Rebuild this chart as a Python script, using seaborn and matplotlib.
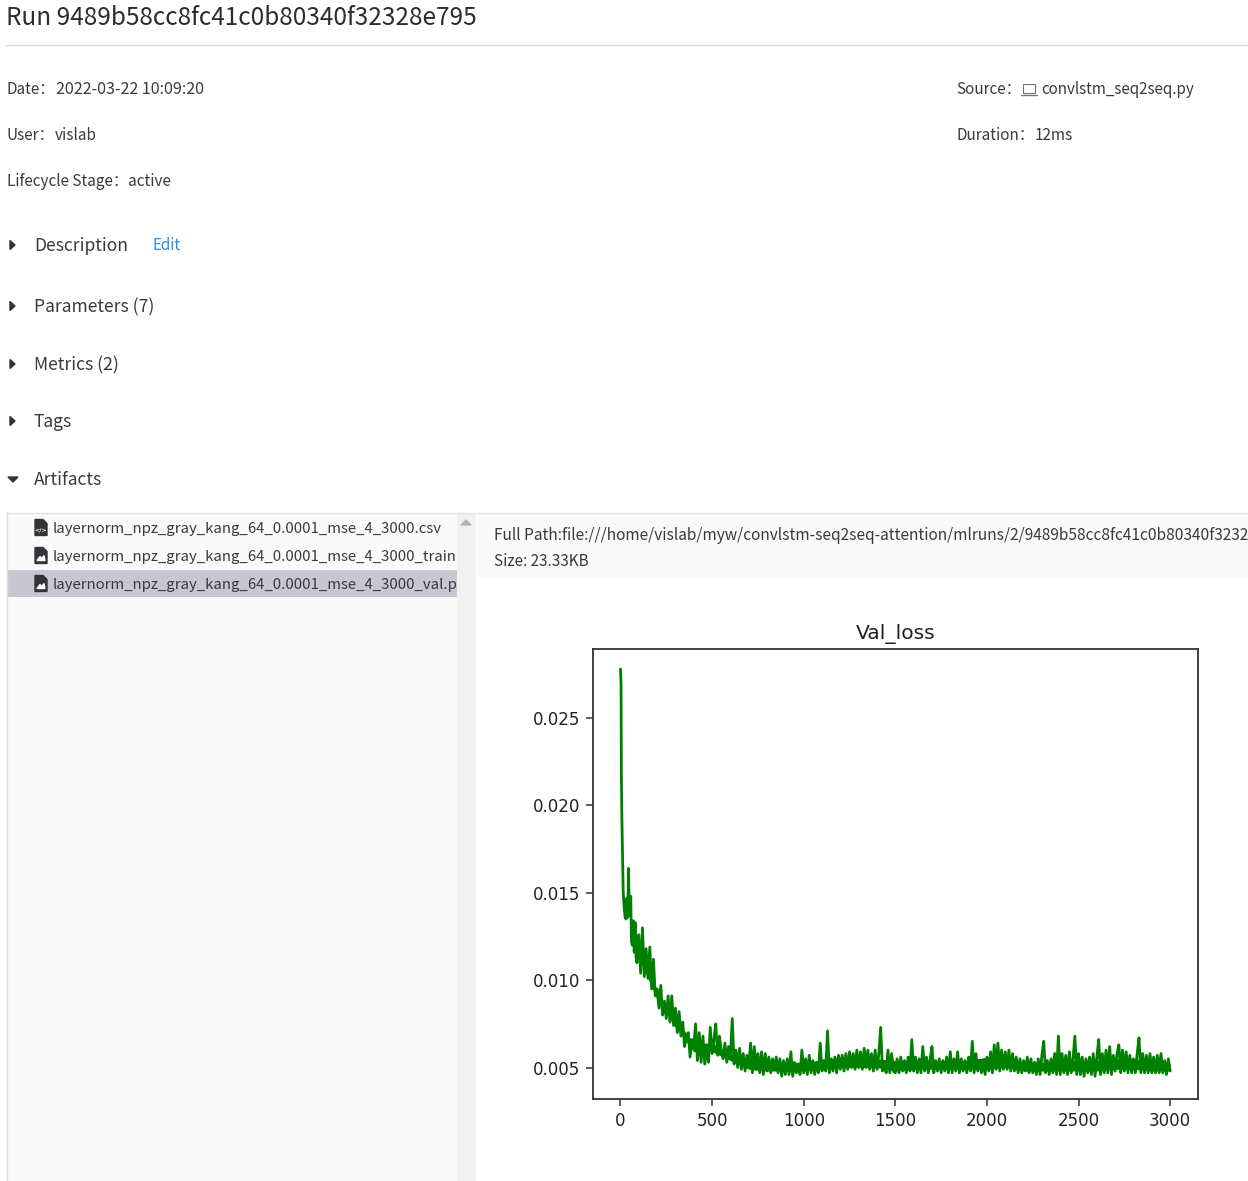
#!/usr/bin/env python3
"""Recreate the MLflow run page with the Val_loss artifact preview."""

import numpy as np
import pandas as pd
import matplotlib
matplotlib.use("Agg")
import matplotlib.pyplot as plt
from matplotlib.patches import Polygon, Rectangle
import seaborn as sns

# ── Data ───────────────────────────────────────────────────────────────────

RUN_TITLE = "Run 9489b58cc8fc41c0b80340f32328e795"
ARTIFACTS = [
    "layernorm_npz_gray_kang_64_0.0001_mse_4_3000.csv",
    "layernorm_npz_gray_kang_64_0.0001_mse_4_3000_train.png",
    "layernorm_npz_gray_kang_64_0.0001_mse_4_3000_val.png",
]
FULL_PATH = ("Full Path:file:///home/vislab/myw/convlstm-seq2seq-attention/"
             "mlruns/2/9489b58cc8fc41c0b80340f32328e795/artifacts")

x_ticks = [0, 500, 1000, 1500, 2000, 2500, 3000]
y_ticks = [0.005, 0.010, 0.015, 0.020, 0.025]
y_tick_labels = ["0.005", "0.010", "0.015", "0.020", "0.025"]

# first 100 epochs, loss in units of 1e-4
early_epochs = [0, 3, 5, 8, 12, 15, 20, 25, 30, 35, 40, 44, 48, 52, 56,
                60, 65, 70, 75, 80, 85, 90, 95]
early_loss = [278, 270, 215, 190, 168, 150, 142, 136, 135, 147, 136, 164, 140,
              137, 148, 122, 120, 134, 116, 133, 113, 110, 124]

# epochs 100..2990 every 10, loss in units of 1e-4
band_loss = [
    126, 104, 130, 102, 118, 101, 119, 95, 112, 91,
    95, 84, 97, 80, 88, 78, 91, 76, 91, 74,
    84, 70, 82, 68, 76, 62, 68, 70, 56, 66,
    62, 75, 54, 70, 53, 68, 52, 62, 53, 73,
    58, 66, 75, 57, 68, 60, 55, 64, 53, 62,
    56, 78, 52, 60, 50, 61, 49, 58, 48, 57,
    50, 64, 47, 62, 49, 58, 47, 59, 46, 58,
    48, 56, 47, 55, 49, 56, 47, 55, 45, 54,
    46, 55, 46, 59, 45, 53, 47, 52, 46, 60,
    47, 55, 46, 57, 47, 54, 46, 53, 47, 64,
    48, 54, 48, 71, 47, 55, 48, 56, 47, 57,
    49, 57, 48, 58, 49, 59, 50, 58, 49, 60,
    50, 59, 49, 61, 50, 60, 49, 58, 48, 60,
    49, 58, 73, 48, 52, 47, 60, 47, 58, 48,
    47, 55, 47, 56, 48, 54, 47, 56, 48, 66,
    48, 56, 47, 55, 47, 62, 48, 56, 47, 55,
    62, 47, 54, 48, 55, 47, 54, 48, 56, 47,
    59, 47, 55, 48, 59, 47, 55, 48, 54, 47,
    56, 48, 65, 47, 58, 48, 54, 47, 53, 46,
    56, 48, 59, 47, 63, 49, 64, 48, 60, 49,
    59, 49, 60, 48, 58, 48, 56, 47, 55, 47,
    54, 48, 56, 47, 55, 47, 53, 46, 55, 46,
    57, 65, 47, 54, 46, 55, 47, 58, 46, 68,
    46, 58, 47, 57, 46, 59, 47, 55, 68, 46,
    58, 46, 56, 45, 55, 47, 56, 46, 58, 45,
    56, 66, 46, 58, 47, 60, 47, 62, 46, 57,
    48, 58, 63, 47, 60, 48, 59, 47, 57, 47,
    55, 47, 58, 67, 47, 58, 47, 57, 47, 58,
    47, 56, 47, 57, 47, 58, 47, 54, 46, 55,
]
last_epoch = 3000
last_loss = 48

# solid body of the noisy band, every 100 epochs, units of 1e-4
body_epochs = [100, 200, 300, 400, 500, 600, 700, 800, 900, 1000,
               1100, 1200, 1300, 1400, 1500, 1600, 1700, 1800, 1900, 2000,
               2100, 2200, 2300, 2400, 2500, 2600, 2700, 2800, 2900, 3000]
body_low = [113, 89, 73, 59, 59, 54, 49, 48, 48, 48,
            49, 50, 50, 50, 48, 49, 49, 49, 49, 49,
            50, 48, 48, 48, 48, 48, 49, 49, 48, 48]
body_high = [120, 92, 78, 64, 64, 58, 55, 53, 53, 53,
             54, 56, 56, 55, 54, 54, 54, 54, 54, 56,
             56, 53, 53, 54, 54, 54, 55, 55, 54, 52]

# ── Config ─────────────────────────────────────────────────────────────────

WIDTH, HEIGHT = 1248, 1181
UI_FONT = ["Noto Sans CJK SC", "DejaVu Sans"]
TEXT = "#3a3a3a"
LINK = "#2b8fe0"
PANEL = "#fafafa"
SCROLL = "#f1f1f1"
SELECTED = "#c9c6d3"
SMALL = 10.75


def ui_text(ax, x, y, s, size=SMALL, color=TEXT, **kw):
    return ax.text(x, y, s, fontsize=size, color=color, family=UI_FONT,
                   va="center", ha=kw.pop("ha", "left"), **kw)


def file_icon(ax, x, y, kind="png"):
    """Small dark document glyph, centre at x, y."""
    ax.add_patch(Polygon([(x - 6, y - 8), (x + 2, y - 8), (x + 6, y - 4),
                          (x + 6, y + 8), (x - 6, y + 8)], color="#33333a"))
    if kind == "csv":
        ax.text(x, y + 2, "</>", color="white", fontsize=4.5, ha="center",
                va="center", fontweight="bold")
    else:
        ax.add_patch(Polygon([(x - 4, y + 5), (x - 1, y + 1), (x + 1, y + 3),
                              (x + 3, y), (x + 4, y + 5)], color="white"))


def draw_page(ax):
    ax.set_xlim(0, WIDTH)
    ax.set_ylim(HEIGHT, 0)
    ax.axis("off")

    ui_text(ax, 6, 18, RUN_TITLE, size=17.5, color="#2c2c2c", fontweight="medium")
    ax.plot([6, WIDTH], [45, 45], color="#dcdcdc", lw=1)

    ui_text(ax, 7, 90, "Date：", size=11)
    ui_text(ax, 56, 90, "2022-03-22 10:09:20", size=11.6)
    ui_text(ax, 7, 136, "User：", size=11)
    ui_text(ax, 55, 136, "vislab", size=11)
    ui_text(ax, 7, 182, "Lifecycle Stage：active", size=11)
    ui_text(ax, 956, 90, "Source：", size=11)
    ui_text(ax, 1041, 90, "convlstm_seq2seq.py", size=10.9)
    ui_text(ax, 956, 136, "Duration：", size=11)
    ui_text(ax, 1035, 136, "12ms", size=11)

    # laptop glyph next to the source name
    ax.add_patch(Rectangle((1023, 84), 12, 9, fill=False, ec="#777777", lw=0.8))
    ax.plot([1021, 1037], [95, 95], color="#777777", lw=1)

    sections = [("Description", 245), ("Parameters (7)", 306),
                ("Metrics (2)", 364), ("Tags", 421)]
    for name, y in sections:
        ax.add_patch(Polygon([(10, y - 4.5), (15, y), (10, y + 4.5)], color="#333333"))
        ui_text(ax, 34, y + 1, name, size=12.6)
    ui_text(ax, 152, 246, "Edit", size=10.9, color=LINK)
    ax.add_patch(Polygon([(8, 477), (18, 477), (13, 482)], color="#333333"))
    ui_text(ax, 34, 480, "Artifacts", size=12.6)

    # artifact browser
    ax.plot([6, WIDTH], [512.5, 512.5], color="#e4e4e4", lw=1)
    ax.plot([6.5, 6.5], [512, HEIGHT], color="#e0e0e0", lw=1)
    ax.add_patch(Rectangle((7, 513), 450, HEIGHT - 513, color=PANEL, lw=0))
    ax.add_patch(Rectangle((457, 513), 19, HEIGHT - 513, color=SCROLL, lw=0))
    ax.add_patch(Rectangle((477, 513), WIDTH - 477, 65, color=PANEL, lw=0))
    ax.add_patch(Rectangle((7, 570), 450, 27, color=SELECTED, lw=0))
    ax.add_patch(Polygon([(461, 525), (471, 525), (466, 520)], color="#b5b5b5"))

    clip = Rectangle((7, 513), 450, HEIGHT - 513, transform=ax.transData)
    for i, (name, y) in enumerate(zip(ARTIFACTS, [528, 556, 584])):
        file_icon(ax, 41, y - 0.5, "csv" if i == 0 else "png")
        label = ui_text(ax, 53, y + 1, name)
        label.set_clip_on(True)
        label.set_clip_path(clip)

    path = ui_text(ax, 494, 536, FULL_PATH, size=11.15)
    path.set_clip_on(True)
    path.set_clip_path(Rectangle((477, 513), WIDTH - 477, 65, transform=ax.transData))
    ui_text(ax, 494, 562, "Size: 23.33KB", size=11)


def draw_chart(ax, df):
    ax.fill_between(body_epochs, np.array(body_low) * 1e-4, np.array(body_high) * 1e-4,
                    color="green", lw=0)
    sns.lineplot(data=df, x="epoch", y="loss", ax=ax, color="green", linewidth=2.0,
                 estimator=None, sort=False, legend=False)
    ax.set_xlim(-150, 3152)
    ax.set_ylim(0.0032, 0.02895)
    ax.set_xticks(x_ticks)
    ax.set_yticks(y_ticks)
    ax.set_yticklabels(y_tick_labels)
    ax.set_xlabel("")
    ax.set_ylabel("")
    ax.set_title("Val_loss", fontsize=14.6, color="#222222", pad=7.5)
    ax.tick_params(axis="both", bottom=True, left=True, length=5, width=1.1,
                   labelsize=12, color="#333333", labelcolor="#222222", pad=4)
    for spine in ax.spines.values():
        spine.set_visible(True)
        spine.set_color("#333333")
        spine.set_linewidth(1.3)


def main():
    sns.set_theme(style="white")
    plt.rcParams["font.family"] = ["DejaVu Sans"]

    band_epochs = np.arange(100, 100 + 10 * len(band_loss), 10)
    df = pd.DataFrame({
        "epoch": np.concatenate([early_epochs, band_epochs, [last_epoch]]),
        "loss": np.concatenate([early_loss, band_loss, [last_loss]]) * 1e-4,
    })

    fig = plt.figure(figsize=(WIDTH / 100, HEIGHT / 100), dpi=100)
    page = fig.add_axes([0, 0, 1, 1])
    draw_page(page)

    left, right, top, bottom = 593, 1198, 649, 1099
    chart = fig.add_axes([left / WIDTH, 1 - bottom / HEIGHT,
                          (right - left) / WIDTH, (bottom - top) / HEIGHT])
    draw_chart(chart, df)

    fig.savefig("out.png", dpi=100, facecolor="white")
    plt.close(fig)


if __name__ == "__main__":
    main()
